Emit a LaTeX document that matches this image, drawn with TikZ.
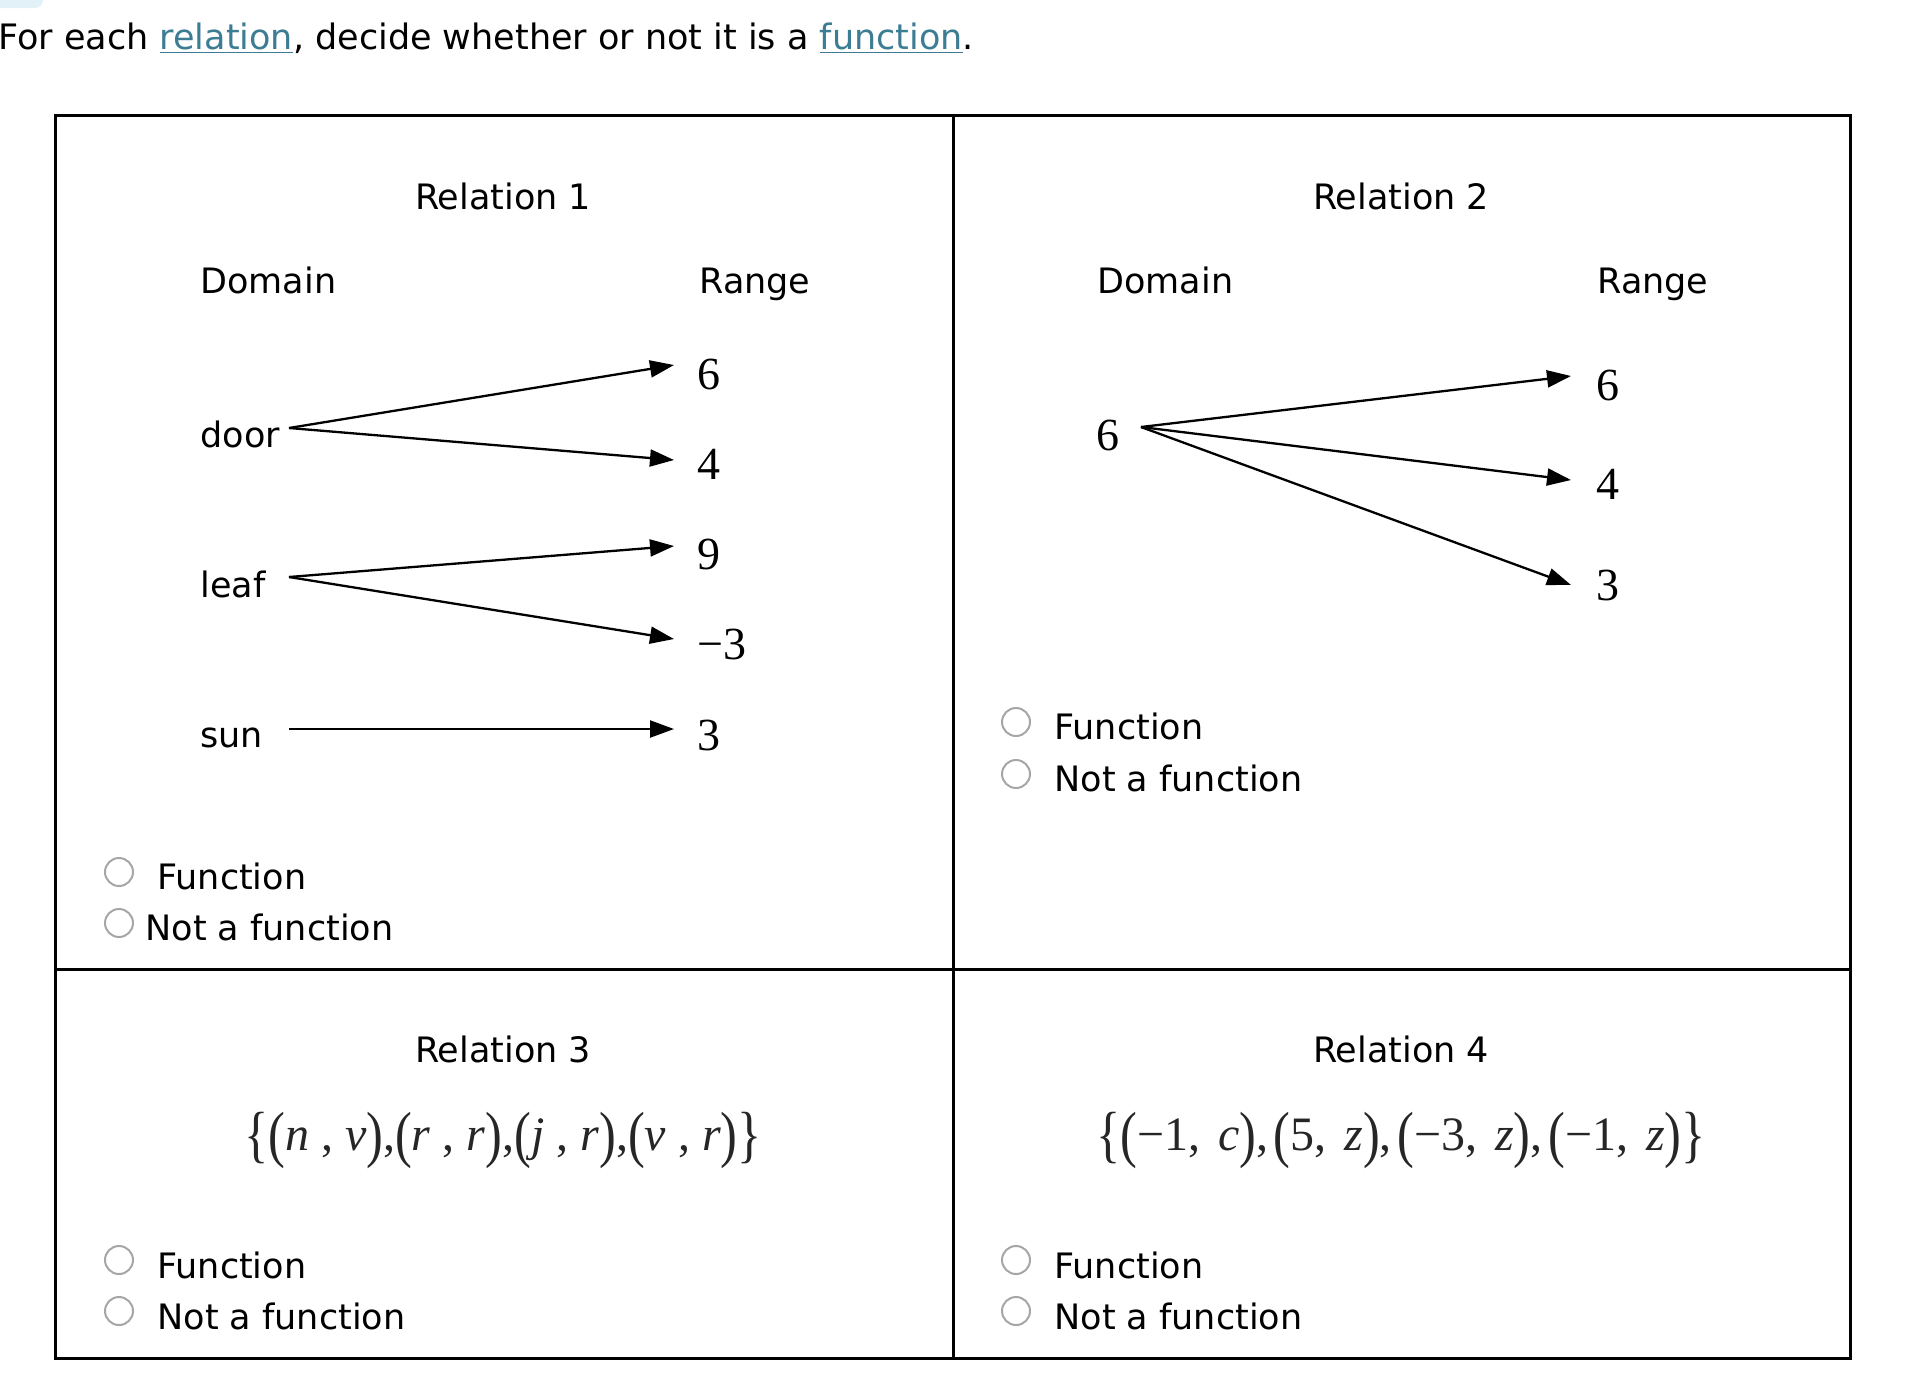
\documentclass[tikz,border=0pt]{standalone}
\usepackage{fontspec}
\setmainfont{DejaVu Sans}
\newfontfamily\tms{Liberation Serif}
\usetikzlibrary{arrows.meta}
\definecolor{linkc}{HTML}{3D7D93}
\definecolor{blobc}{HTML}{E2F1F7}
\newcommand\pp[1]{\raisebox{-0.11em}{\scalebox{1.05}[1.3]{#1}}}
\newcommand\gp{\hspace{0.12em}}
\begin{document}
\begin{tikzpicture}[x=0.5pt,y=-0.5pt,
  sans/.style={font=\fontsize{17.5}{21}\selectfont, inner sep=0pt},
  num/.style={font=\tms\fontsize{23}{27}\selectfont, inner sep=0pt},
  formula/.style={font=\tms\fontsize{24}{28}\selectfont, inner sep=0pt, text=black!85},
  arr/.style={line width=1.15pt, -{Triangle[length=12pt,width=8.5pt]}},
  radio/.style={draw=gray!70, line width=1pt, circle, minimum size=14pt, inner sep=0pt},
  frame/.style={line width=1.5pt}]
\useasboundingbox (0,0) rectangle (1920,1383);
\fill[blobc, rounded corners=4pt] (-30,-30) rectangle (43,8);
% header
\node[sans, anchor=base west] (hdr) at (-2,49) {For each \textcolor{linkc}{\underline{relation}}, decide whether or not it is a \textcolor{linkc}{\underline{function}}.};
% frame
\draw[frame] (55,115) rectangle (1850,1358);
\draw[frame] (953,115) -- (953,1358);
\draw[frame] (55,969) -- (1850,969);
% titles
\node[sans, anchor=base] (t1) at (503,209) {Relation 1};
\node[sans, anchor=base] (t2) at (1401,209) {Relation 2};
\node[sans, anchor=base] (t3) at (503,1062) {Relation 3};
\node[sans, anchor=base] (t4) at (1401,1062) {Relation 4};
% Relation 1
\node[sans, anchor=base west] (dom1) at (200,293) {Domain};
\node[sans, anchor=base west] (ran1) at (699,293) {Range};
\node[sans, anchor=base west] (door) at (200,447) {door};
\node[sans, anchor=base west] (leaf) at (200,597) {leaf};
\node[sans, anchor=base west] (sun) at (200,747) {sun};
\node[num, anchor=base west] (r6) at (697,389) {6};
\node[num, anchor=base west] (r4) at (697,479) {4};
\node[num, anchor=base west] (r9) at (697,569) {9};
\node[num, anchor=base west] (rm3) at (697,659) {−3};
\node[num, anchor=base west] (r3) at (697,750) {3};
\coordinate (sdoor) at (289,428);
\coordinate (sleaf) at (289,577);
\coordinate (ssun) at (289,729);
\coordinate (e6) at (674,365);
\coordinate (e4) at (674,460);
\coordinate (e9) at (674,546);
\coordinate (em3) at (674,639);
\coordinate (e3) at (674,729);
\draw[arr] (sdoor) -- (e6);
\draw[arr] (sdoor) -- (e4);
\draw[arr] (sleaf) -- (e9);
\draw[arr] (sleaf) -- (em3);
\draw[arr] (ssun) -- (e3);
\node[radio] (c1a) at (119,872) {};
\node[radio] (c1b) at (119,923) {};
\node[sans, anchor=base west] (f1a) at (157,889) {Function};
\node[sans, anchor=base west] (f1b) at (145,940) {Not a function};
% Relation 2
\node[sans, anchor=base west] (dom2) at (1097,293) {Domain};
\node[sans, anchor=base west] (ran2) at (1597,293) {Range};
\node[num, anchor=base west] (d6) at (1096,450) {6};
\node[num, anchor=base west] (q6) at (1596,400) {6};
\node[num, anchor=base west] (q4) at (1596,499) {4};
\node[num, anchor=base west] (q3) at (1596,600) {3};
\coordinate (s6) at (1141,427);
\coordinate (g6) at (1571,376);
\coordinate (g4) at (1571,480);
\coordinate (g3) at (1571,585);
\draw[arr] (s6) -- (g6);
\draw[arr] (s6) -- (g4);
\draw[arr] (s6) -- (g3);
\node[radio] (c2a) at (1016,722) {};
\node[radio] (c2b) at (1016,774) {};
\node[sans, anchor=base west] (f2a) at (1054,739) {Function};
\node[sans, anchor=base west] (f2b) at (1054,791) {Not a function};
% Relation 3
\node[formula, anchor=base] (rel3) at (503,1150) {\pp{\{}\pp{(}\textit{n} , \textit{v}\pp{)},\pp{(}\textit{r} , \textit{r}\pp{)},\pp{(}\textit{j} , \textit{r}\pp{)},\pp{(}\textit{v} , \textit{r}\pp{)}\pp{\}}};
\node[radio] (c3a) at (119,1260) {};
\node[radio] (c3b) at (119,1311) {};
\node[sans, anchor=base west] (f3a) at (157,1278) {Function};
\node[sans, anchor=base west] (f3b) at (157,1329) {Not a function};
% Relation 4
\node[formula, anchor=base] (rel4) at (1401,1150) {\pp{\{}\pp{(}−1,\gp{} \textit{c}\pp{)},\gp\pp{(}5,\gp{} \textit{z}\pp{)},\gp\pp{(}−3,\gp{} \textit{z}\pp{)},\gp\pp{(}−1,\gp{} \textit{z}\pp{)}\pp{\}}};
\node[radio] (c4a) at (1016,1260) {};
\node[radio] (c4b) at (1016,1311) {};
\node[sans, anchor=base west] (f4a) at (1054,1278) {Function};
\node[sans, anchor=base west] (f4b) at (1054,1329) {Not a function};
\end{tikzpicture}
\end{document}
